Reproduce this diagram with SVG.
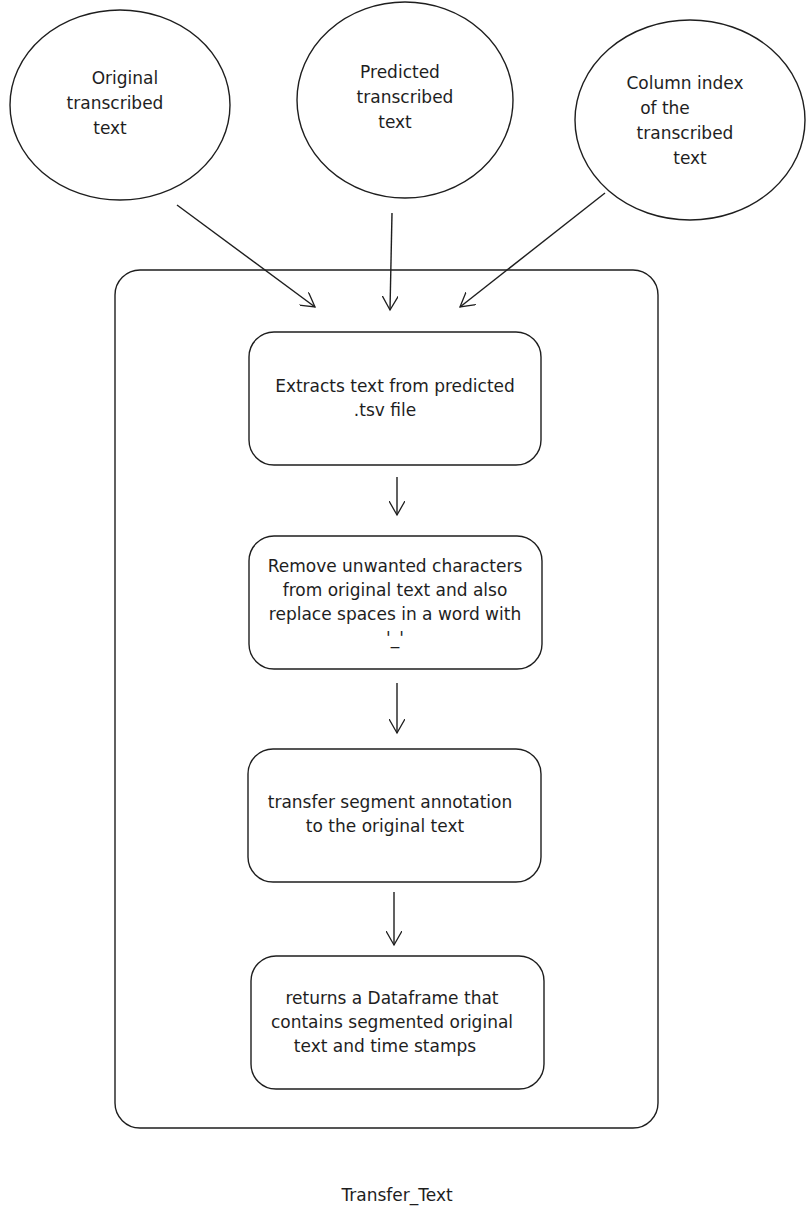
<svg xmlns="http://www.w3.org/2000/svg" width="812" height="1217" viewBox="0 0 812 1217">
<defs>
<marker id="a" markerWidth="16" markerHeight="16" refX="14" refY="8" orient="auto" markerUnits="userSpaceOnUse"><path d="M0,0 L14,8 L0,16" fill="none" stroke="#1e1e1e" stroke-width="1.3"/></marker>
</defs>
<style>
.s{fill:none;stroke:#1e1e1e;stroke-width:1.4}
text{font-family:"DejaVu Sans","Liberation Sans",sans-serif;font-size:17px;fill:#1e1e1e;text-anchor:middle}
</style>
<rect width="812" height="1217" fill="#fff"/>
<g id="n1"><ellipse class="s" cx="120" cy="105" rx="110" ry="95"/><text x="125" y="84">Original</text><text x="115" y="109">transcribed</text><text x="110" y="134">text</text></g>
<g id="n2"><ellipse class="s" cx="405" cy="100" rx="108" ry="98"/><text x="400" y="78">Predicted</text><text x="405" y="103">transcribed</text><text x="395" y="128">text</text></g>
<g id="n3"><ellipse class="s" cx="690" cy="120" rx="115" ry="100"/><text x="685" y="89">Column index</text><text x="665" y="114">of the</text><text x="685" y="139">transcribed</text><text x="690" y="164">text</text></g>
<g id="container"><rect class="s" x="115" y="270" width="543" height="858" rx="25"/></g>
<g id="b1"><rect class="s" x="249" y="332" width="292" height="133" rx="25"/><text x="395" y="392">Extracts text from predicted</text><text x="385" y="416">.tsv file</text></g>
<g id="b2"><rect class="s" x="249" y="536" width="293" height="133" rx="25"/><text x="395" y="572">Remove unwanted characters</text><text x="395" y="596">from original text and also</text><text x="395" y="620">replace spaces in a word with</text><text x="395" y="644">'_'</text></g>
<g id="b3"><rect class="s" x="248" y="749" width="293" height="133" rx="25"/><text x="390" y="808">transfer segment annotation</text><text x="385" y="832">to the original text</text></g>
<g id="b4"><rect class="s" x="251" y="956" width="293" height="133" rx="25"/><text x="392" y="1004">returns a Dataframe that</text><text x="392" y="1028">contains segmented original</text><text x="385" y="1052">text and time stamps</text></g>
<g id="connectors">
<line class="s" x1="177" y1="205" x2="315" y2="307" marker-end="url(#a)"/>
<line class="s" x1="392" y1="213" x2="390" y2="310" marker-end="url(#a)"/>
<line class="s" x1="605" y1="193" x2="460" y2="307" marker-end="url(#a)"/>
<line class="s" x1="397" y1="477" x2="397" y2="515" marker-end="url(#a)"/>
<line class="s" x1="397" y1="683" x2="397" y2="733" marker-end="url(#a)"/>
<line class="s" x1="394" y1="892" x2="394" y2="945" marker-end="url(#a)"/>
</g>
<text x="397" y="1201">Transfer_Text</text>
</svg>
